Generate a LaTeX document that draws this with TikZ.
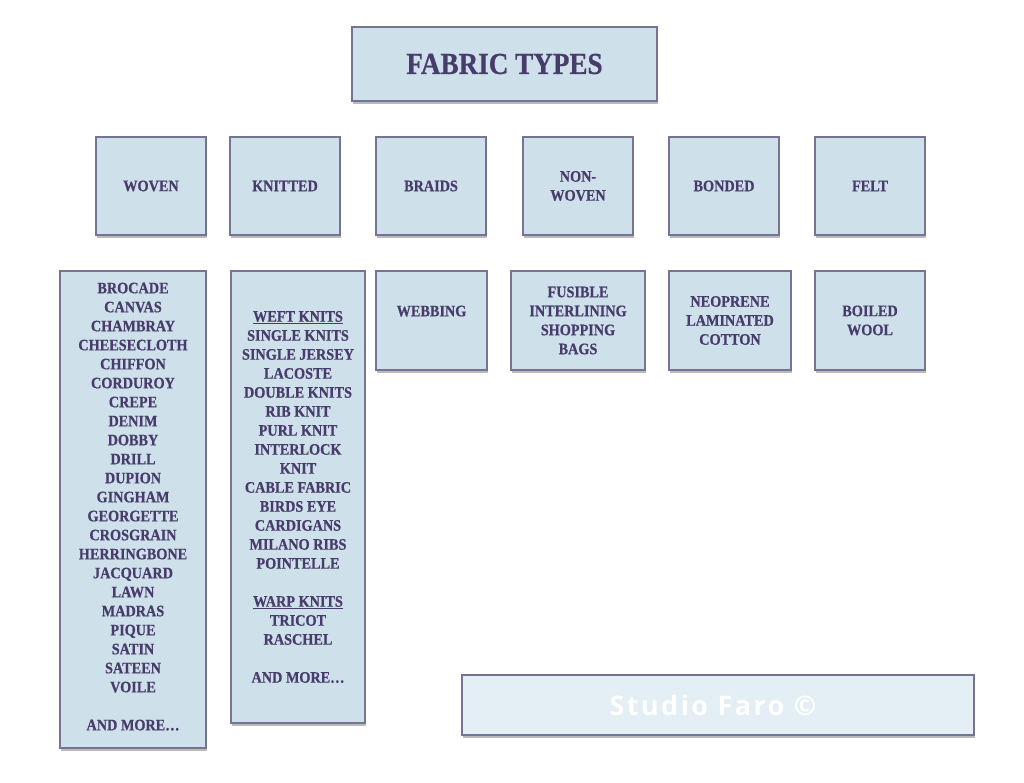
\documentclass[tikz,border=0pt]{standalone}
\usepackage{fontspec}
\usetikzlibrary{shadows}
\newfontfamily\cam{Liberation Serif}[FakeStretch=0.89,FakeBold=0.6]
\newfontfamily\osans{Open Sans}[LetterSpace=9]
\definecolor{boxfill}{RGB}{206,225,234}
\definecolor{boxline}{RGB}{118,116,148}
\definecolor{txt}{RGB}{72,60,108}
\definecolor{studiofill}{RGB}{227,238,245}
\begin{document}
\begin{tikzpicture}[x=1pt,y=-1pt,
  box/.style={draw=boxline, line width=1.1pt, fill=boxfill, text=txt,
    font=\cam\bfseries\fontsize{16}{19}\selectfont, align=center, inner sep=0pt,
    drop shadow={shadow xshift=1pt, shadow yshift=-2.5pt, fill=black!60, opacity=0.45}},
  cat/.style={box, minimum width=110pt, minimum height=98pt},
  sub/.style={box, minimum height=99pt}]
\useasboundingbox (0,0) rectangle (1024,782);
\fill[white] (0,0) rectangle (1024,782);
% title
\node[box, minimum width=305pt, minimum height=74pt,
  font=\cam\bfseries\fontsize{30.5}{35}\selectfont] (title) at (504.5,64) {FABRIC TYPES};
% categories
\node[cat] (woven) at (151,186) {WOVEN};
\node[cat] (knitted) at (285,186) {KNITTED};
\node[cat] (braids) at (431,186) {BRAIDS};
\node[cat] (nonwoven) at (578,186) {NON-\\WOVEN};
\node[cat] (bonded) at (724,186) {BONDED};
\node[cat] (felt) at (870,186) {FELT};
% lists
\node[box, minimum width=146pt, minimum height=477pt] (wovenlist) at (133,509.5)
 {BROCADE\\CANVAS\\CHAMBRAY\\CHEESECLOTH\\CHIFFON\\CORDUROY\\CREPE\\DENIM\\DOBBY\\DRILL\\DUPION\\GINGHAM\\GEORGETTE\\CROSGRAIN\\HERRINGBONE\\JACQUARD\\LAWN\\MADRAS\\PIQUE\\SATIN\\SATEEN\\VOILE\\[19pt]AND MORE\dots\\[-13pt]\mbox{}};
\node[box, minimum width=134pt, minimum height=452pt] (knitlist) at (298,497)
 {\underline{WEFT KNITS}\\SINGLE KNITS\\SINGLE JERSEY\\LACOSTE\\DOUBLE KNITS\\RIB KNIT\\PURL KNIT\\INTERLOCK\\KNIT\\CABLE FABRIC\\BIRDS EYE\\CARDIGANS\\MILANO RIBS\\POINTELLE\\[19pt]\underline{WARP KNITS}\\TRICOT\\RASCHEL\\[19pt]AND MORE\dots};
\node[sub, minimum width=111pt] (webbing) at (431.5,320.5) {WEBBING\\\mbox{}};
\node[sub, minimum width=134pt] (fusible) at (578,320.5) {FUSIBLE\\INTERLINING\\SHOPPING\\BAGS};
\node[sub, minimum width=122pt] (neoprene) at (730,320.5) {NEOPRENE\\LAMINATED\\COTTON};
\node[sub, minimum width=110pt] (boiled) at (870,320.5) {BOILED\\WOOL};
% studio
\node[box, fill=studiofill, minimum width=512pt, minimum height=60pt, text=white,
  font=\osans\bfseries\fontsize{27}{30}\selectfont] (studio) at (718,705) {Studio Faro ©\kern10pt};
\end{tikzpicture}
\end{document}
